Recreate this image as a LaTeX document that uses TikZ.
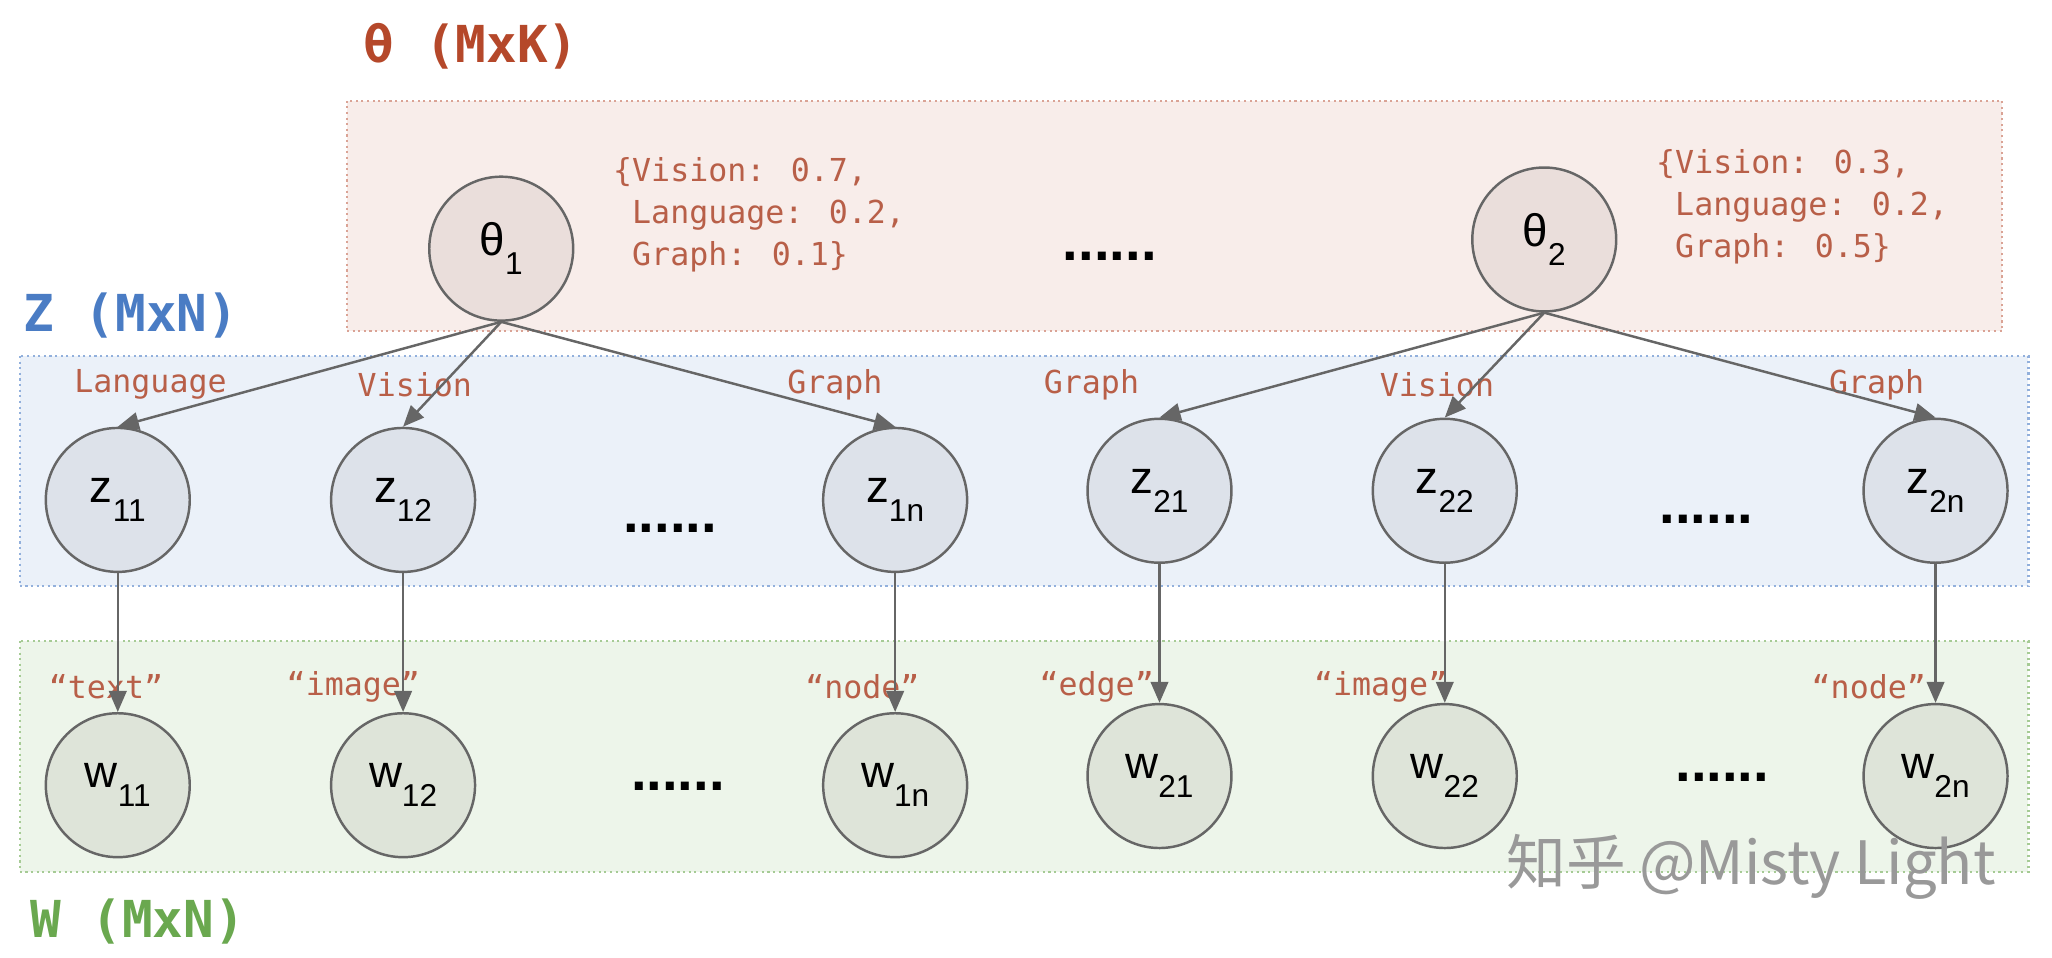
\documentclass[tikz,border=0pt]{standalone}
\usepackage{fontspec}
\setmainfont{Liberation Sans}
\newfontfamily\monof{DejaVu Sans Mono}
\newfontfamily\cjkf{Noto Sans CJK SC}
\usetikzlibrary{arrows.meta}
\definecolor{tred}{HTML}{B5482A}
\definecolor{lab}{HTML}{B85F48}
\definecolor{zblue}{HTML}{4A7CC4}
\definecolor{wgreen}{HTML}{6AA84F}
\definecolor{edg}{HTML}{666666}
\definecolor{tfill}{HTML}{EADEDB}
\definecolor{zfill}{HTML}{DDE2EA}
\definecolor{wfill}{HTML}{DEE4D9}
\tikzset{
 x=0.01309cm,y=-0.01309cm,
 var/.style={circle,draw=edg,line width=0.7pt,minimum size=1.44cm,inner sep=0pt,font=\fontsize{13}{13}\selectfont},
 tn/.style={var,fill=tfill},
 zn/.style={var,fill=zfill},
 wn/.style={var,fill=wfill},
 lbl/.style={text=lab,font=\monof\fontsize{9}{11.9}\selectfont,inner sep=0pt},
 ttl/.style={font=\monof\bfseries\fontsize{14.5}{15}\selectfont,inner sep=0pt},
 arr/.style={-{Triangle[length=6pt,width=5pt]},draw=edg,line width=0.7pt},
 dots/.style={font=\bfseries\fontsize{16}{16}\selectfont,inner sep=0pt},
 box/.style={densely dotted,line width=0.6pt}
}
\newcommand{\sub}[1]{\raisebox{-0.8ex}{\fontsize{9}{9}\selectfont #1}}
\begin{document}
\begin{tikzpicture}
\useasboundingbox (0,0) rectangle (1568,732);
\fill[white] (0,0) rectangle (1568,732);
% boxes
\draw[box,draw=tred!50,fill=tred!10!white] (265,77) rectangle (1530,253);
\draw[box,draw=zblue!60,fill=zblue!11!white] (15,272) rectangle (1550,448);
\draw[box,draw=wgreen!60,fill=wgreen!12!white] (15,490) rectangle (1550,666);
% titles
\node[ttl,text=tred] (tt) at (360,35) {θ (MxK)};
\node[ttl,text=zblue] (zt) at (100,241) {Z (MxN)};
\node[ttl,text=wgreen] (wt) at (105,704) {W (MxN)};
% theta nodes
\node[tn] (t1) at (383,190) {θ\sub{1}};
\node[tn] (t2) at (1180,183) {θ\sub{2}};
\node[lbl,anchor=north west,align=left] (d1) at (468,120) {\{Vision: 0.7,\\\hphantom{\{}Language: 0.2,\\\hphantom{\{}Graph: 0.1\}};
\node[lbl,anchor=north west,align=left] (d2) at (1265,114) {\{Vision: 0.3,\\\hphantom{\{}Language: 0.2,\\\hphantom{\{}Graph: 0.5\}};
\node[dots] (td) at (848,196) {......};
% z nodes
\node[zn] (z11) at (90,382) {z\sub{11}};
\node[zn] (z12) at (308,382) {z\sub{12}};
\node[zn] (z1n) at (684,382) {z\sub{1n}};
\node[zn] (z21) at (886,375) {z\sub{21}};
\node[zn] (z22) at (1104,375) {z\sub{22}};
\node[zn] (z2n) at (1479,375) {z\sub{2n}};
\node[dots] (zd1) at (512,404) {......};
\node[dots] (zd2) at (1304,397) {......};
% w nodes
\node[wn] (w11) at (90,600) {w\sub{11}};
\node[wn] (w12) at (308,600) {w\sub{12}};
\node[wn] (w1n) at (684,600) {w\sub{1n}};
\node[wn] (w21) at (886,593) {w\sub{21}};
\node[wn] (w22) at (1104,593) {w\sub{22}};
\node[wn] (w2n) at (1479,593) {w\sub{2n}};
\node[dots] (wd1) at (518,601) {......};
\node[dots] (wd2) at (1316,594) {......};
% labels
\node[lbl] (l1) at (115,294) {Language};
\node[lbl] (l2) at (317,294) {Vision};
\node[lbl] (l3) at (638,294) {Graph};
\node[lbl] (l4) at (834,294) {Graph};
\node[lbl] (l5) at (1098,294) {Vision};
\node[lbl] (l6) at (1434,294) {Graph};
\node[lbl] (m1) at (81,525) {“text”};
\node[lbl] (m2) at (270,525) {“image”};
\node[lbl] (m3) at (659,525) {“node”};
\node[lbl] (m4) at (838,525) {“edge”};
\node[lbl] (m5) at (1055,525) {“image”};
\node[lbl] (m6) at (1428,525) {“node”};
% edges
\foreach \a/\b in {t1/z11,t1/z12,t1/z1n,t2/z21,t2/z22,t2/z2n}
  \draw[arr] (\a.south) -- (\b.north);
\foreach \a/\b in {z11/w11,z12/w12,z1n/w1n,z21/w21,z22/w22,z2n/w2n}
  \draw[arr] (\a.south) -- (\b.north);
% watermark
\node[text=black!40,font=\cjkf\fontsize{17}{17}\selectfont,inner sep=0pt] (wm) at (1338,662) {知乎 @Misty Light};
\end{tikzpicture}
\end{document}
